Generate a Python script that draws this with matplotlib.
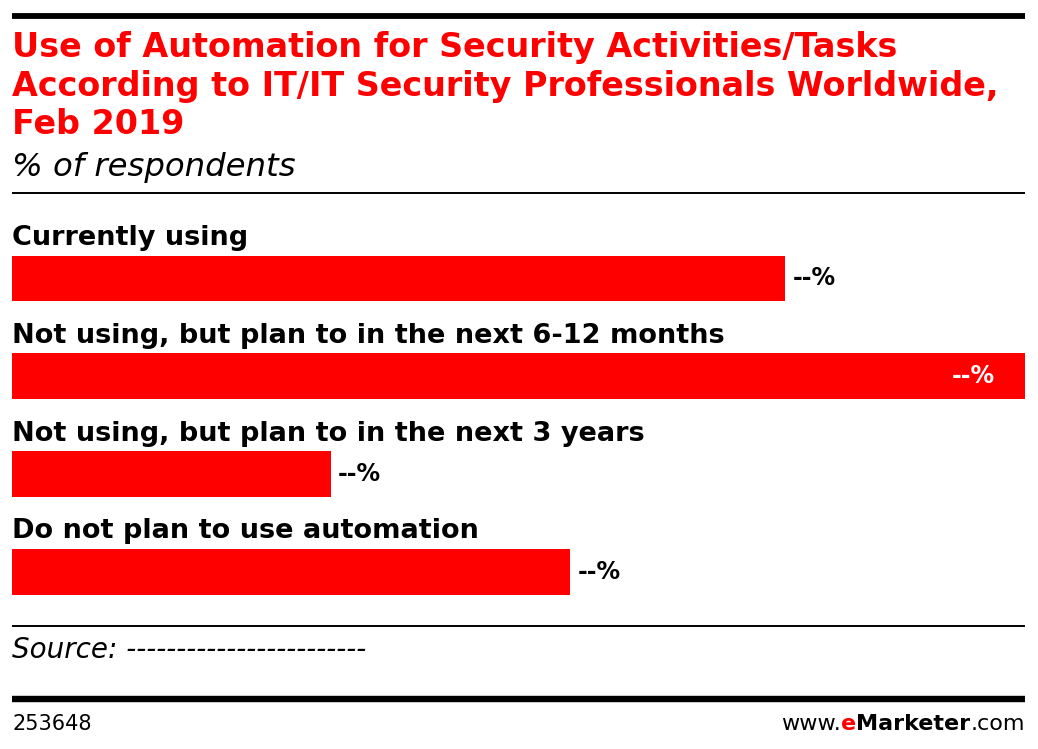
import matplotlib
matplotlib.use("Agg")
import matplotlib.pyplot as plt
from matplotlib.lines import Line2D

# data
categories = ["Currently using",
              "Not using, but plan to in the next 6-12 months",
              "Not using, but plan to in the next 3 years",
              "Do not plan to use automation"]
values = [31.3, 41.0, 12.9, 22.6]
value_labels = ["--%", "--%", "--%", "--%"]

title_lines = ["Use of Automation for Security Activities/Tasks",
               "According to IT/IT Security Professionals Worldwide,",
               "Feb 2019"]
subtitle = "% of respondents"
source = "Source: ------------------------"
chart_id = "253648"

W, H = 1038, 749
RED = "#ff0000"
plt.rcParams['font.family'] = ['DejaVu Sans']

fig = plt.figure(figsize=(W / 100, H / 100), dpi=100)


def fx(x):
    return x / W


def fy(y):
    return 1 - y / H


def hline(y, lw):
    fig.add_artist(Line2D([fx(12), fx(1025)], [fy(y), fy(y)], color="black",
                          lw=lw, transform=fig.transFigure, solid_capstyle="butt"))


# rules
hline(16, 4.2)
hline(193, 1.4)
hline(626, 1.4)
hline(699, 4.6)

# title block
for line, base in zip(title_lines, [57, 96, 134]):
    fig.text(fx(12), fy(base), line, color=RED, fontsize=24, fontweight="bold",
             va="baseline", ha="left")
fig.text(fx(12), fy(176), subtitle, fontsize=23.3, style="italic",
         va="baseline", ha="left")

# bars
ax_top, ax_bot = 229.6, 620.6
ax = fig.add_axes([fx(12), fy(ax_bot), fx(1025) - fx(12), (ax_bot - ax_top) / H])
ypos = list(range(len(categories)))
ax.barh(ypos, values, height=0.47, color=RED, left=0)
ax.set_xlim(0, max(values))
ax.set_ylim(len(categories) - 0.5, -0.5)
ax.axis("off")

for i, (cat, v, lab) in enumerate(zip(categories, values, value_labels)):
    ax.text(0, i - 0.34, cat, fontsize=19.5, fontweight="bold", va="baseline",
            ha="left", transform=ax.transData, clip_on=False)
    if v == max(values):
        ax.annotate(lab, (v, i), xytext=(-22, 0), textcoords="offset points",
                    ha="right", va="center", color="white", fontsize=17,
                    fontweight="bold")
    else:
        ax.annotate(lab, (v, i), xytext=(5, 0), textcoords="offset points",
                    ha="left", va="center", color="black", fontsize=17,
                    fontweight="bold")

# footer
fig.text(fx(12), fy(658), source, fontsize=20, style="italic",
         va="baseline", ha="left")
fig.text(fx(12), fy(730), chart_id, fontsize=15, va="baseline", ha="left")

r = fig.canvas.get_renderer()
x_right = 1025
pieces = [(".com", "normal", "black"), ("Marketer", "bold", "black"),
          ("e", "bold", RED), ("www.", "normal", "black")]
for txt, wt, col in pieces:
    t = fig.text(fx(x_right), fy(730), txt, fontsize=16, fontweight=wt, color=col,
                 va="baseline", ha="right")
    bb = t.get_window_extent(renderer=r)
    x_right -= bb.width

fig.savefig("out.png", dpi=100)
